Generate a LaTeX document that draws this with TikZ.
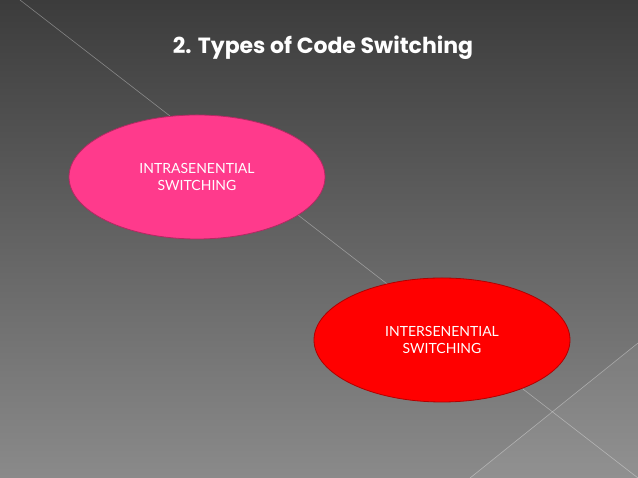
\documentclass[tikz,border=0pt]{standalone}
\usepackage{fontspec}
\setmainfont{Poppins}
\newfontfamily\lightfont{Lato}
\usetikzlibrary{shapes.geometric}
\definecolor{bgtop}{HTML}{3C3C3C}
\definecolor{bgbot}{HTML}{8A8A8A}
\definecolor{pinkf}{HTML}{FF3A8C}
\definecolor{redf}{HTML}{FF0000}
\tikzset{
  oval/.style={ellipse, minimum width=256pt, minimum height=124pt, draw=#1!70!black, line width=0.8pt, text=white, align=center, font=\lightfont\fontsize{14}{17}\selectfont},
}
\begin{document}
\begin{tikzpicture}[x=1pt,y=1pt]
\useasboundingbox (0,0) rectangle (638,478);
\shade[top color=bgtop, bottom color=bgbot] (0,0) rectangle (638,478);
\fill[white,opacity=0.06] (470,0) -- (638,135) -- (638,0) -- cycle;
\draw[white,opacity=0.35,line width=0.6pt] (20,478) -- (638,0);
\draw[white,opacity=0.35,line width=0.6pt] (470,0) -- (638,135);
\node[font=\bfseries\fontsize{22}{26}\selectfont, text=white] (title) at (323,430) {2. Types of Code Switching};
\node[oval=pinkf, fill=pinkf] (intra) at (197,301) {INTRASENENTIAL\\SWITCHING};
\node[oval=redf, fill=redf] (inter) at (442,138) {INTERSENENTIAL\\SWITCHING};
\end{tikzpicture}
\end{document}
